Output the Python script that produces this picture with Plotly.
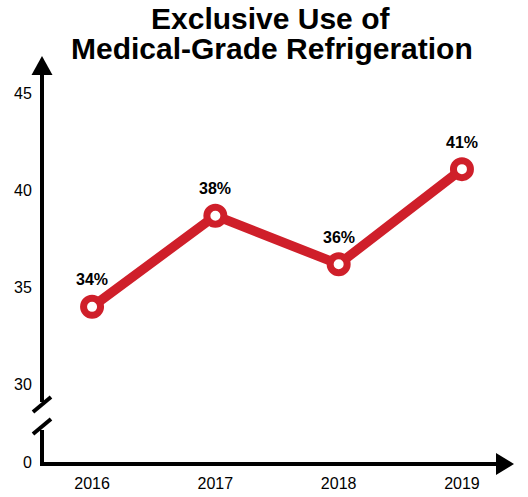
import plotly.graph_objects as go

# data
years = [2016, 2017, 2018, 2019]
share = [34.0, 38.7, 36.2, 41.1]
share_labels = ['34%', '38%', '36%', '41%']
tick_vals = [26.0, 30, 35, 40, 45]   # first one stands for the broken-off 0
tick_text = ['0', '30', '35', '40', '45']

RED = '#cf1f2a'
W, H = 528, 497
L, R, T, B = 42, 15, 57, 33
PW, PH = W - L - R, H - T - B


def px(x):
    return (x - L) / PW


def py(y):
    return (H - B - y) / PH


fig = go.Figure()
fig.add_trace(go.Scatter(
    x=years, y=share,
    mode='lines+markers',
    line=dict(color=RED, width=9.5),
    marker=dict(size=17, color='white', line=dict(color=RED, width=7)),
    showlegend=False,
    hoverinfo='skip',
))

# percentage labels above each point
for yr, v, lab in zip(years, share, share_labels):
    fig.add_annotation(x=yr, y=v, text='<b>' + lab + '</b>', showarrow=False,
                       yshift=27, font=dict(family='Liberation Sans', size=16, color='black'))

# title, two lines
title_font = dict(family='Liberation Sans', size=30, color='black')
fig.add_annotation(xref='paper', yref='paper', x=px(270), y=py(0), text='<b>Exclusive Use of</b>',
                   showarrow=False, xanchor='center', yanchor='top', font=title_font)
fig.add_annotation(xref='paper', yref='paper', x=px(272), y=py(30),
                   text='<b>Medical-Grade Refrigeration</b>',
                   showarrow=False, xanchor='center', yanchor='top', font=title_font)

# axes drawn by hand: broken y axis with arrow, x axis with arrow
line = dict(color='black', width=4)
shapes = [
    dict(type='line', x0=px(42), x1=px(42), y0=py(74), y1=py(402), line=line),
    dict(type='line', x0=px(42), x1=px(42), y0=py(430), y1=py(466), line=line),
    dict(type='line', x0=px(33), x1=px(51), y0=py(412), y1=py(397), line=line),
    dict(type='line', x0=px(33), x1=px(51), y0=py(434), y1=py(419), line=line),
    dict(type='line', x0=px(40), x1=px(498), y0=py(464), y1=py(464), line=line),
    dict(type='path', path=f'M {px(42)} {py(56)} L {px(31.5)} {py(75)} L {px(52.5)} {py(75)} Z',
         fillcolor='black', line=dict(width=0)),
    dict(type='path', path=f'M {px(514)} {py(464)} L {px(496)} {py(453)} L {px(496)} {py(475)} Z',
         fillcolor='black', line=dict(width=0)),
]
for s in shapes:
    s.update(xref='paper', yref='paper', layer='above')

fig.update_layout(
    width=W, height=H,
    margin=dict(l=L, r=R, t=T, b=B),
    paper_bgcolor='white', plot_bgcolor='white',
    shapes=shapes,
    xaxis=dict(range=[2015.594, 2019.414], tickvals=years, showgrid=False, zeroline=False,
               showline=False, ticks='outside', ticklen=5, tickcolor='rgba(0,0,0,0)',
               automargin=False,
               tickfont=dict(family='Liberation Sans', size=16, color='black')),
    yaxis=dict(range=[25.9, 46.88], tickvals=tick_vals, ticktext=tick_text, showgrid=False,
               zeroline=False, showline=False, ticks='outside', ticklen=6,
               tickcolor='rgba(0,0,0,0)', automargin=False,
               tickfont=dict(family='Liberation Sans', size=16, color='black')),
)

# page body has an 8px default margin, drop it so the figure sits at 0,0
fig.write_html('out.html', config={'displayModeBar': False},
               post_script="document.body.style.margin='0';")
